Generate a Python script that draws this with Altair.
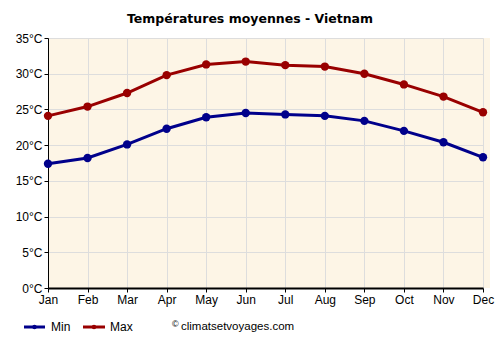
import altair as alt
import pandas as pd

months = ["Jan", "Feb", "Mar", "Apr", "May", "Jun", "Jul", "Aug", "Sep", "Oct", "Nov", "Dec"]
tmin = [17.4, 18.2, 20.1, 22.3, 23.9, 24.5, 24.3, 24.1, 23.4, 22.0, 20.4, 18.3]
tmax = [24.1, 25.4, 27.3, 29.8, 31.3, 31.7, 31.2, 31.0, 30.0, 28.5, 26.8, 24.6]
series = ["Min", "Max"]
colors = ["#00008B", "#990000"]
y_ticks = [0, 5, 10, 15, 20, 25, 30, 35]

df = pd.DataFrame({
    "month": months * 2,
    "temp": tmin + tmax,
    "series": ["Min"] * 12 + ["Max"] * 12,
})

FONT = "Liberation Sans"

x = alt.X("month:N", sort=months, scale=alt.Scale(type="point", padding=0, range=[0, 435]),
          axis=alt.Axis(title=None, labelAngle=0, grid=True, gridColor="#dddddd",
                        domainColor="#000000", domainWidth=2, tickColor="#000000",
                        tickSize=4, labelFont=FONT, labelFontSize=12, labelColor="#000000",
                        labelPadding=2))
y = alt.Y("temp:Q", scale=alt.Scale(domain=[0, 35], nice=False),
          axis=alt.Axis(title=None, values=y_ticks, labelExpr="datum.value + '°C'",
                        grid=True, gridColor="#dddddd", domainColor="#000000",
                        domainWidth=1, tickColor="#000000", tickSize=4,
                        labelFont=FONT, labelFontSize=12, labelColor="#000000",
                        labelPadding=2))
color = alt.Color("series:N", scale=alt.Scale(domain=series, range=colors), legend=None)

base = alt.Chart(df).encode(x=x, y=y, color=color, detail="series:N")
lines = base.mark_line(strokeWidth=3)
points = base.mark_circle(size=70, opacity=1)

dummy = pd.DataFrame({"k": [0]})
legend_layers = []
positions = [(-24, -3, 3), (35, 57, 62)]
for name, col, (x1, x2, xt) in zip(series, colors, positions):
    legend_layers.append(
        alt.Chart(dummy).mark_rule(color=col, strokeWidth=3).encode(
            x=alt.value(x1), x2=alt.value(x2), y=alt.value(289)))
    legend_layers.append(
        alt.Chart(dummy).mark_circle(color=col, size=20, opacity=1).encode(
            x=alt.value((x1 + x2) / 2), y=alt.value(289)))
    legend_layers.append(
        alt.Chart(dummy).mark_text(text=name, align="left", baseline="middle",
                                   font=FONT, fontSize=12, color="#000000").encode(
            x=alt.value(xt), y=alt.value(289)))
legend_layers.append(
    alt.Chart(dummy).mark_text(text="©", align="left", baseline="middle",
                               font=FONT, fontSize=9, color="#000000").encode(
        x=alt.value(124), y=alt.value(286)))
legend_layers.append(
    alt.Chart(dummy).mark_text(text="climatsetvoyages.com", align="left", baseline="middle",
                               font=FONT, fontSize=11.5, color="#000000").encode(
        x=alt.value(133), y=alt.value(289)))

chart = alt.layer(lines, points, *legend_layers).properties(
    width=442, height=250,
    title=alt.TitleParams("Températures moyennes - Vietnam", font="DejaVu Sans", fontSize=12.5,
                          fontWeight="bold", color="#000000", anchor="middle", offset=7, dx=-19),
    autosize=alt.AutoSizeParams(type="none"),
    padding={"left": 48, "top": 38, "right": 10, "bottom": 62},
    background="#ffffff",
).configure_view(fill="#fdf5e6", strokeWidth=0)

chart.save("out.html", embed_options={"renderer": "svg", "actions": False})
